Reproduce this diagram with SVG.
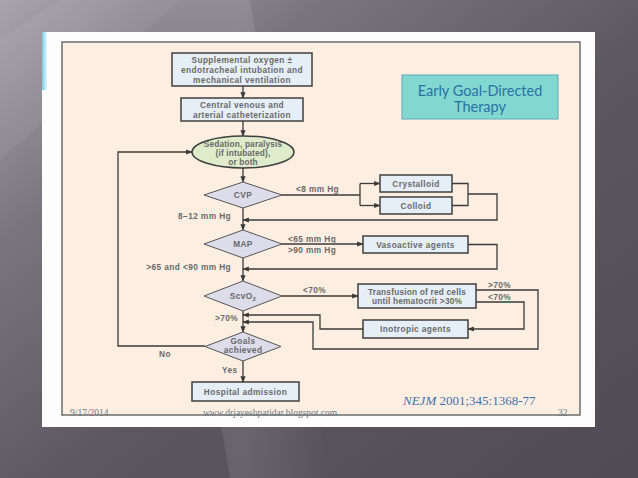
<svg xmlns="http://www.w3.org/2000/svg" width="638" height="478" viewBox="0 0 638 478">
<defs>
<linearGradient id="bg" x1="0" y1="0" x2="1" y2="1">
<stop offset="0" stop-color="#a8a4ad"/>
<stop offset="0.25" stop-color="#7a7680"/>
<stop offset="0.55" stop-color="#5c5862"/>
<stop offset="1" stop-color="#4f4b54"/>
</linearGradient>
<linearGradient id="streak" x1="0" y1="0" x2="1" y2="0">
<stop offset="0" stop-color="#ffffff" stop-opacity="0"/>
<stop offset="0.5" stop-color="#ffffff" stop-opacity="0.1"/>
<stop offset="1" stop-color="#ffffff" stop-opacity="0"/>
</linearGradient>
<linearGradient id="cyan" x1="0" y1="0" x2="1" y2="0">
<stop offset="0" stop-color="#6fd0e4"/>
<stop offset="1" stop-color="#e6f7fb"/>
</linearGradient>
<marker id="ah" viewBox="0 0 10 10" refX="9" refY="5" markerWidth="5" markerHeight="5" orient="auto">
<path d="M0,1 L10,5 L0,9 z" fill="#3a3a3a"/>
</marker>
<style>
.box{fill:#e6eef7;stroke:#3f3f3f;stroke-width:1.5}
.dia{fill:#dcdcea;stroke:#555;stroke-width:1}
.ell{fill:#dfeccb;stroke:#3f3f3f;stroke-width:1.5}
.t{font-family:"Liberation Sans",Arial,sans-serif;font-size:8.3px;font-weight:bold;letter-spacing:0.4px;fill:#6a6a6a;text-anchor:middle}
.l{font-family:"Liberation Sans",Arial,sans-serif;font-size:8.3px;font-weight:bold;letter-spacing:0.4px;fill:#6a6a6a}
.c{fill:none;stroke:#3a3a3a;stroke-width:1.3}
.foot{font-family:"Liberation Serif","DejaVu Serif",serif;font-size:9.5px;fill:#6d7a86}
</style>
</defs>
<rect x="0" y="0" width="638" height="478" fill="url(#bg)"/>
<polygon points="150,0 250,0 330,478 230,478" fill="url(#streak)"/>
<polygon points="0,40 60,0 180,0 0,160" fill="#ffffff" fill-opacity="0.05"/>
<rect x="42" y="32" width="553" height="395" fill="#fdfdfd"/>
<rect x="42" y="32" width="5" height="58" fill="url(#cyan)"/>
<rect x="62" y="42" width="518" height="373" fill="#fcefe2" stroke="#6e6e6e" stroke-width="1.5"/>

<g id="connectors">
<line class="c" x1="243" y1="86" x2="243" y2="98" marker-end="url(#ah)"/>
<line class="c" x1="243" y1="121" x2="243" y2="136" marker-end="url(#ah)"/>
<line class="c" x1="243" y1="168" x2="243" y2="182" marker-end="url(#ah)"/>
<line class="c" x1="243" y1="208" x2="243" y2="230" marker-end="url(#ah)"/>
<line class="c" x1="243" y1="258" x2="243" y2="281" marker-end="url(#ah)"/>
<line class="c" x1="243" y1="311" x2="243" y2="332" marker-end="url(#ah)"/>
<line class="c" x1="243" y1="361" x2="243" y2="382" marker-end="url(#ah)"/>
<polyline class="c" points="282,195 360,195"/>
<polyline class="c" points="360,183.5 360,205.5"/>
<line class="c" x1="360" y1="183.5" x2="380" y2="183.5" marker-end="url(#ah)"/>
<line class="c" x1="360" y1="205.5" x2="380" y2="205.5" marker-end="url(#ah)"/>
<polyline class="c" points="452,183.5 468,183.5 468,205.5 452,205.5"/>
<polyline class="c" points="468,194 497,194 497,220 243,220" marker-end="url(#ah)"/>
<line class="c" x1="282" y1="244" x2="363" y2="244" marker-end="url(#ah)"/>
<polyline class="c" points="468,244.5 497,244.5 497,269 243,269" marker-end="url(#ah)"/>
<line class="c" x1="282" y1="296" x2="358" y2="296" marker-end="url(#ah)"/>
<polyline class="c" points="476,290 538,290 538,349 313,349 313,322 243,322" marker-end="url(#ah)"/>
<polyline class="c" points="476,302 524,302 524,329 468,329" marker-end="url(#ah)"/>
<polyline class="c" points="363,329 320,329 320,315 243,315" marker-end="url(#ah)"/>
<polyline class="c" points="205,346 118,346 118,152 192,152" marker-end="url(#ah)"/>
<text class="l" x="296" y="192">&lt;8 mm Hg</text>
<text class="l" x="231" y="219" text-anchor="end">8–12 mm Hg</text>
<text class="l" x="288" y="242">&lt;65 mm Hg</text>
<text class="l" x="288" y="253">&gt;90 mm Hg</text>
<text class="l" x="231" y="269.5" text-anchor="end">&gt;65 and &lt;90 mm Hg</text>
<text class="l" x="303" y="293">&lt;70%</text>
<text class="l" x="488" y="287.5">&gt;70%</text>
<text class="l" x="488" y="300">&lt;70%</text>
<text class="l" x="238" y="320.5" text-anchor="end">&gt;70%</text>
<text class="l" x="159" y="357">No</text>
<text class="l" x="222" y="373">Yes</text>
</g>

<g id="oxygen">
<rect class="box" x="172" y="53" width="140" height="33"/>
<text class="t" x="242" y="63">Supplemental oxygen ±</text>
<text class="t" x="242" y="73">endotracheal intubation and</text>
<text class="t" x="242" y="83">mechanical ventilation</text>
</g>
<g id="catheter">
<rect class="box" x="181" y="98" width="122" height="23"/>
<text class="t" x="242" y="108">Central venous and</text>
<text class="t" x="242" y="117.5">arterial catheterization</text>
</g>
<g id="sedation">
<ellipse class="ell" cx="243" cy="152" rx="51" ry="16"/>
<text class="t" x="243" y="147" style="letter-spacing:0.15px">Sedation, paralysis</text>
<text class="t" x="243" y="156" style="letter-spacing:0.15px">(if intubated),</text>
<text class="t" x="243" y="164.5" style="letter-spacing:0.15px">or both</text>
</g>
<g id="cvp">
<polygon class="dia" points="243,182 282,195 243,208 204,195"/>
<text class="t" x="243" y="198">CVP</text>
</g>
<g id="crystalloid">
<rect class="box" x="380" y="175" width="72" height="17"/>
<text class="t" x="416" y="186.5">Crystalloid</text>
</g>
<g id="colloid">
<rect class="box" x="380" y="197" width="72" height="17"/>
<text class="t" x="416" y="208.5">Colloid</text>
</g>
<g id="map">
<polygon class="dia" points="243,230 282,244 243,258 204,244"/>
<text class="t" x="243" y="247">MAP</text>
</g>
<g id="vasoactive">
<rect class="box" x="363" y="236" width="105" height="17"/>
<text class="t" x="415.5" y="247.5">Vasoactive agents</text>
</g>
<g id="scvo2">
<polygon class="dia" points="243,281 282,296 243,311 204,296"/>
<text class="t" x="243" y="299">ScvO<tspan font-size="6px" dy="2">2</tspan></text>
</g>
<g id="transfusion">
<rect class="box" x="358" y="284" width="118" height="24"/>
<text class="t" x="417" y="294.5" style="letter-spacing:0.2px">Transfusion of red cells</text>
<text class="t" x="417" y="303.5" style="letter-spacing:0.2px">until hematocrit &gt;30%</text>
</g>
<g id="inotropic">
<rect class="box" x="363" y="320" width="105" height="18"/>
<text class="t" x="415.5" y="332">Inotropic agents</text>
</g>
<g id="goals">
<polygon class="dia" points="243,332 281,346.5 243,361 205,346.5"/>
<text class="t" x="243" y="343.5">Goals</text>
<text class="t" x="243" y="352.5">achieved</text>
</g>
<g id="hospital">
<rect class="box" x="192" y="382" width="107" height="19"/>
<text class="t" x="245.5" y="394.5">Hospital admission</text>
</g>
<g id="title">
<rect x="402" y="75" width="156" height="44" fill="#82d8d0" stroke="#5ea9b8" stroke-width="1"/>
<text x="480" y="96" font-family="Lato,'Open Sans',sans-serif" font-size="14.5px" fill="#2a72a4" text-anchor="middle">Early Goal-Directed</text>
<text x="480" y="112" font-family="Lato,'Open Sans',sans-serif" font-size="14.5px" fill="#2a72a4" text-anchor="middle">Therapy</text>
</g>
<text x="403" y="405" font-family="'Liberation Serif','DejaVu Serif',serif" font-size="13px" fill="#3f6fb0"><tspan font-style="italic">NEJM</tspan> 2001;345:1368-77</text>
<text class="foot" x="70" y="416">9/17/2014</text>
<text class="foot" x="203" y="416">www.drjayeshpatidar.blogspot.com</text>
<text class="foot" x="558" y="416">32</text>
</svg>
